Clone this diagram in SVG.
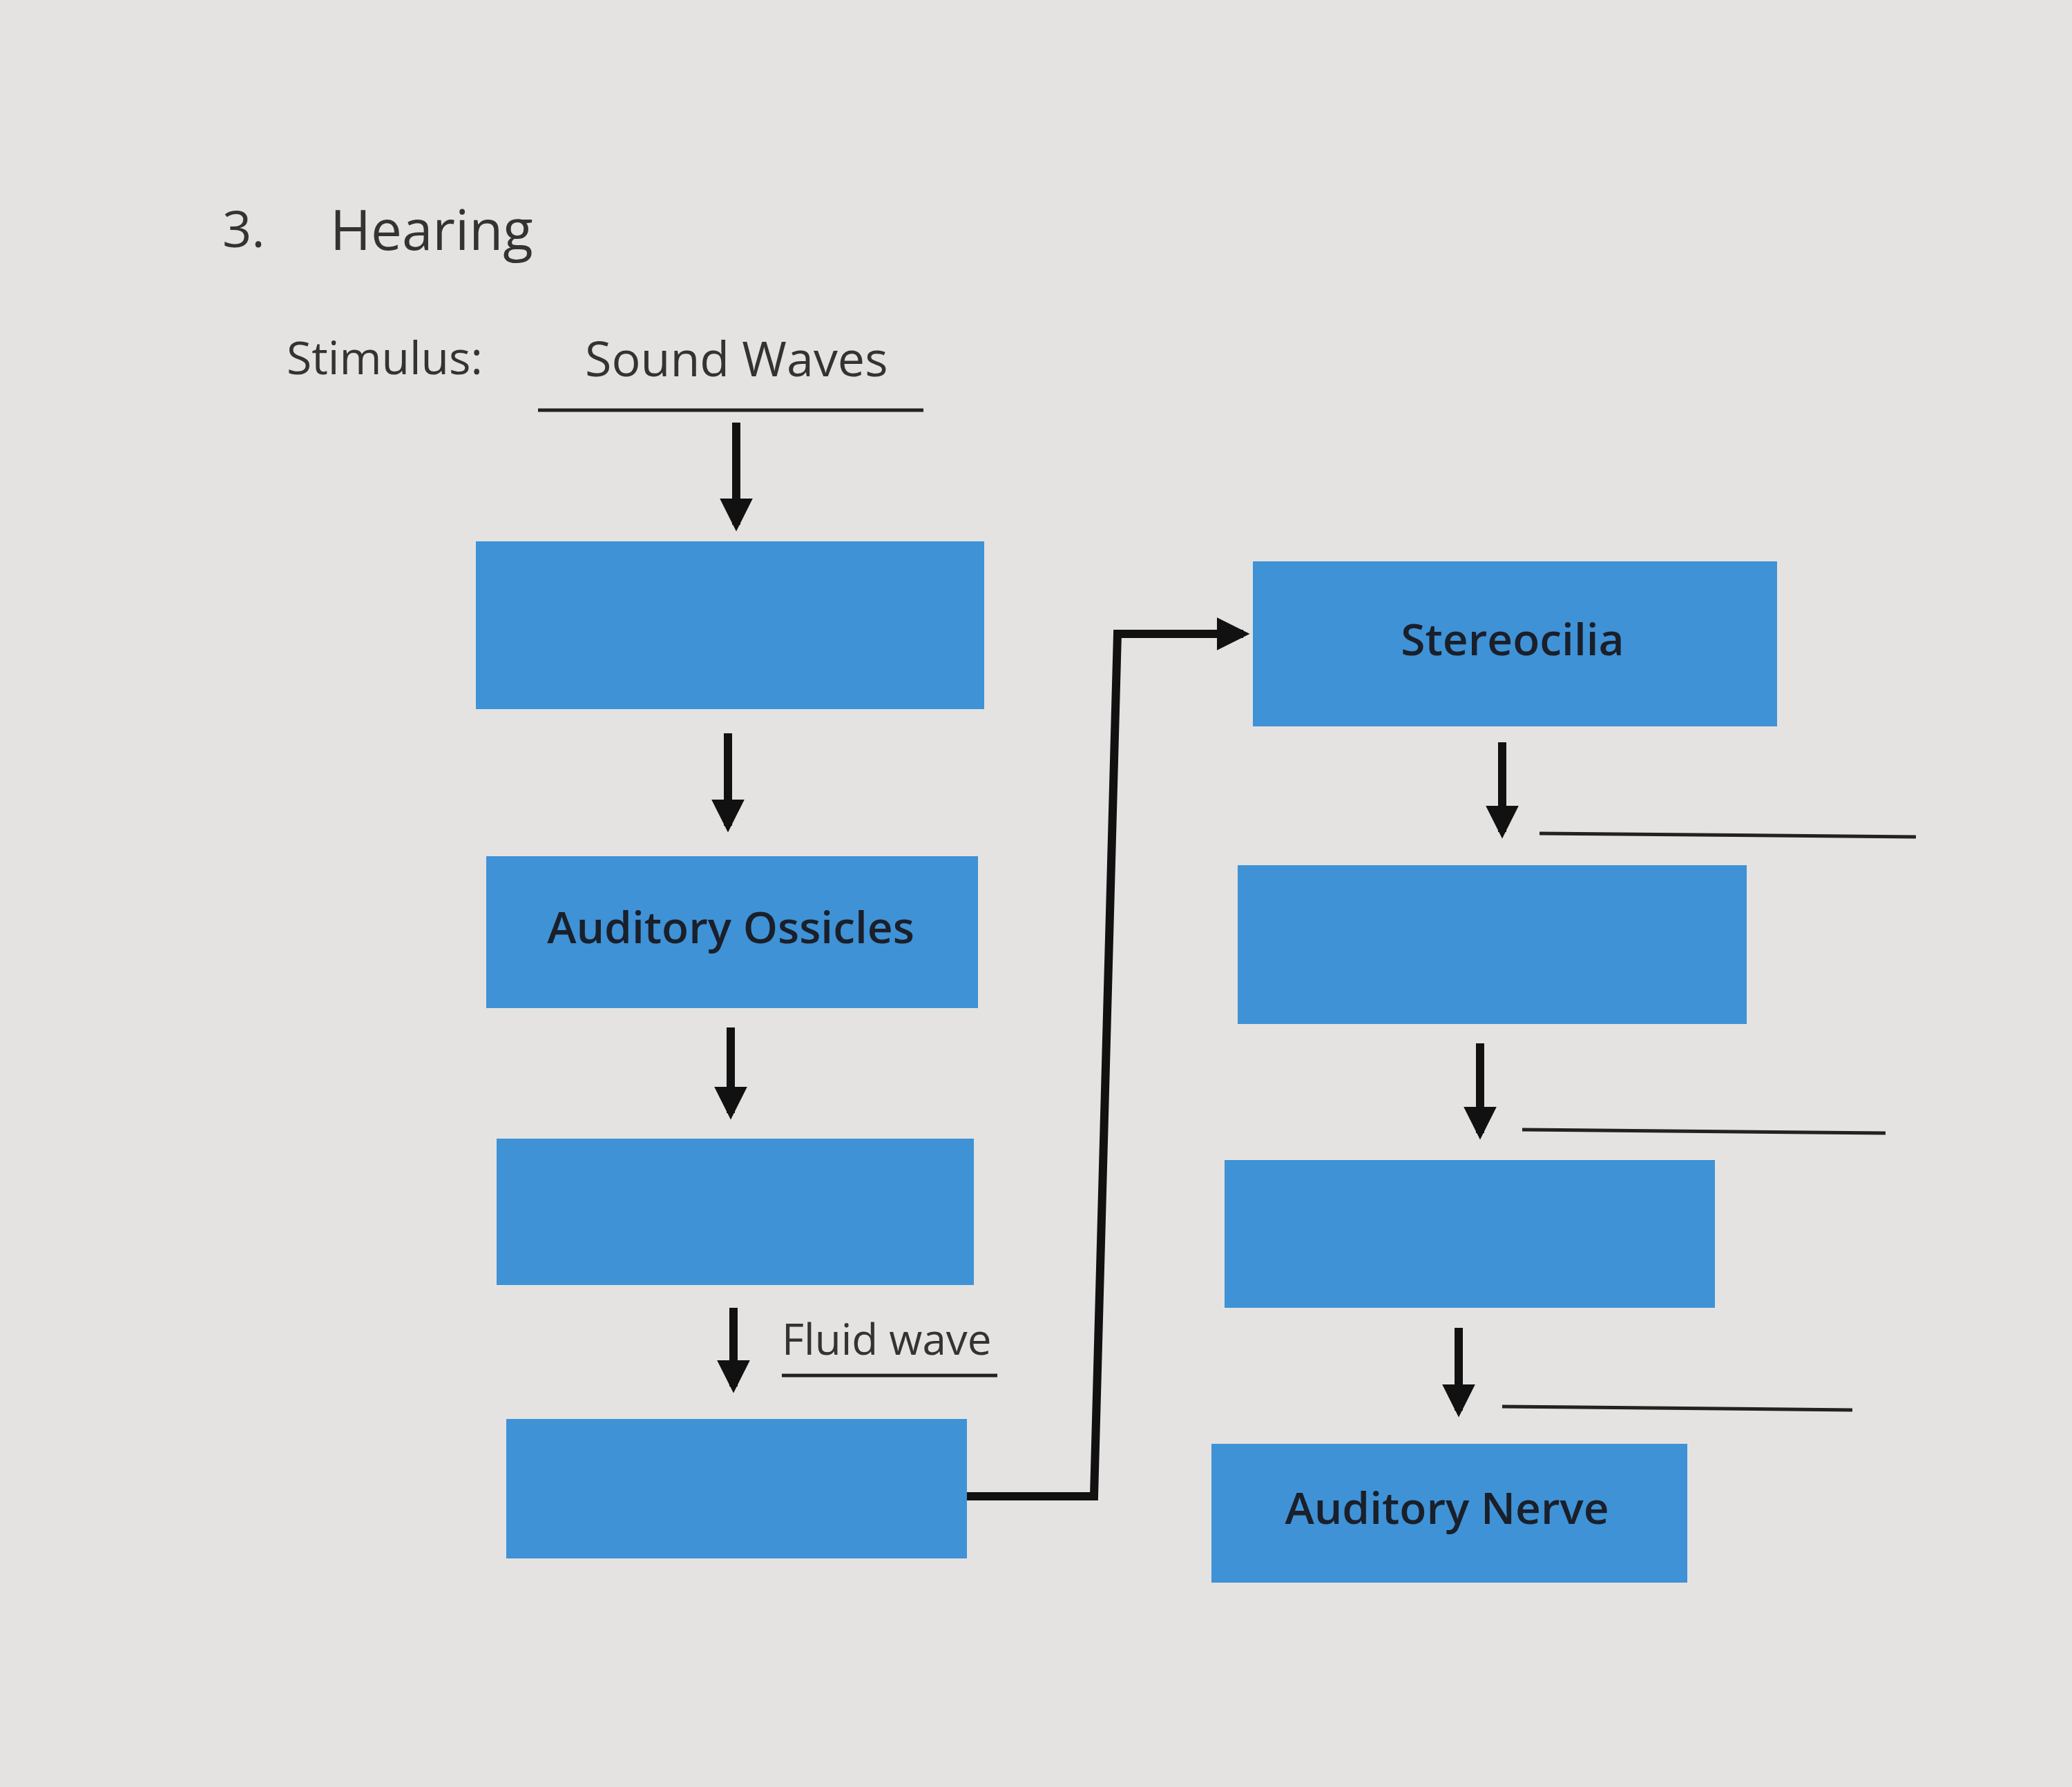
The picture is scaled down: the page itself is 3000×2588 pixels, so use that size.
<svg xmlns="http://www.w3.org/2000/svg" width="3000" height="2588" viewBox="0 0 3000 2588">
<style>
.box{fill:#3f92d6}
.lbl{font-family:"Open Sans","Liberation Sans",sans-serif;font-size:64px;font-weight:600;fill:#1a1f2a;text-anchor:middle;dominant-baseline:middle}
.txt{font-family:"Open Sans","Liberation Sans",sans-serif;fill:#333}
.ln{stroke:#222;stroke-width:5;fill:none}
.arr{stroke:#111;stroke-width:12;fill:none;marker-end:url(#ah)}
</style>
<defs>
<marker id="ah" viewBox="0 0 10 10" refX="8" refY="5" markerWidth="4" markerHeight="4" orient="auto" markerUnits="strokeWidth"><path d="M0,0 L10,5 L0,10 z" fill="#111"/></marker>
</defs>
<rect width="3000" height="2588" fill="#e4e3e1"/>
<text class="txt" x="322" y="358" font-size="74">3.</text>
<text class="txt" x="478" y="362" font-size="80">Hearing</text>
<text class="txt" x="415" y="542" font-size="66">Stimulus:</text>
<text class="txt" x="847" y="545" font-size="70">Sound Waves</text>
<line class="ln" x1="779" y1="594" x2="1337" y2="594"/>
<g id="connectors">
<line class="arr" x1="1066" y1="612" x2="1066" y2="760"/>
<line class="arr" x1="1054" y1="1062" x2="1054" y2="1196"/>
<line class="arr" x1="1058" y1="1488" x2="1058" y2="1612"/>
<line class="arr" x1="1062" y1="1894" x2="1062" y2="2008"/>
<polyline class="arr" points="1400,2167 1584,2167 1618,918 1800,918"/>
<line class="arr" x1="2175" y1="1075" x2="2175" y2="1205"/>
<line class="arr" x1="2143" y1="1511" x2="2143" y2="1641"/>
<line class="arr" x1="2112" y1="1923" x2="2112" y2="2043"/>
</g>
<text class="txt" x="1132" y="1962" font-size="62">Fluid wave</text>
<line class="ln" x1="1132" y1="1992" x2="1444" y2="1992"/>
<line class="ln" x1="2229" y1="1207" x2="2774" y2="1212"/>
<line class="ln" x1="2204" y1="1636" x2="2730" y2="1641"/>
<line class="ln" x1="2175" y1="2037" x2="2682" y2="2042"/>
<g id="n1"><rect class="box" x="689" y="784" width="736" height="243"/></g>
<g id="n2"><rect class="box" x="704" y="1240" width="712" height="220"/><text class="lbl" x="1058" y="1349">Auditory Ossicles</text></g>
<g id="n3"><rect class="box" x="719" y="1649" width="691" height="212"/></g>
<g id="n4"><rect class="box" x="733" y="2055" width="667" height="202"/></g>
<g id="n5"><rect class="box" x="1814" y="813" width="759" height="239"/><text class="lbl" x="2190" y="932">Stereocilia</text></g>
<g id="n6"><rect class="box" x="1792" y="1253" width="737" height="230"/></g>
<g id="n7"><rect class="box" x="1773" y="1680" width="710" height="214"/></g>
<g id="n8"><rect class="box" x="1754" y="2091" width="689" height="201"/><text class="lbl" x="2095" y="2190">Auditory Nerve</text></g>
</svg>
